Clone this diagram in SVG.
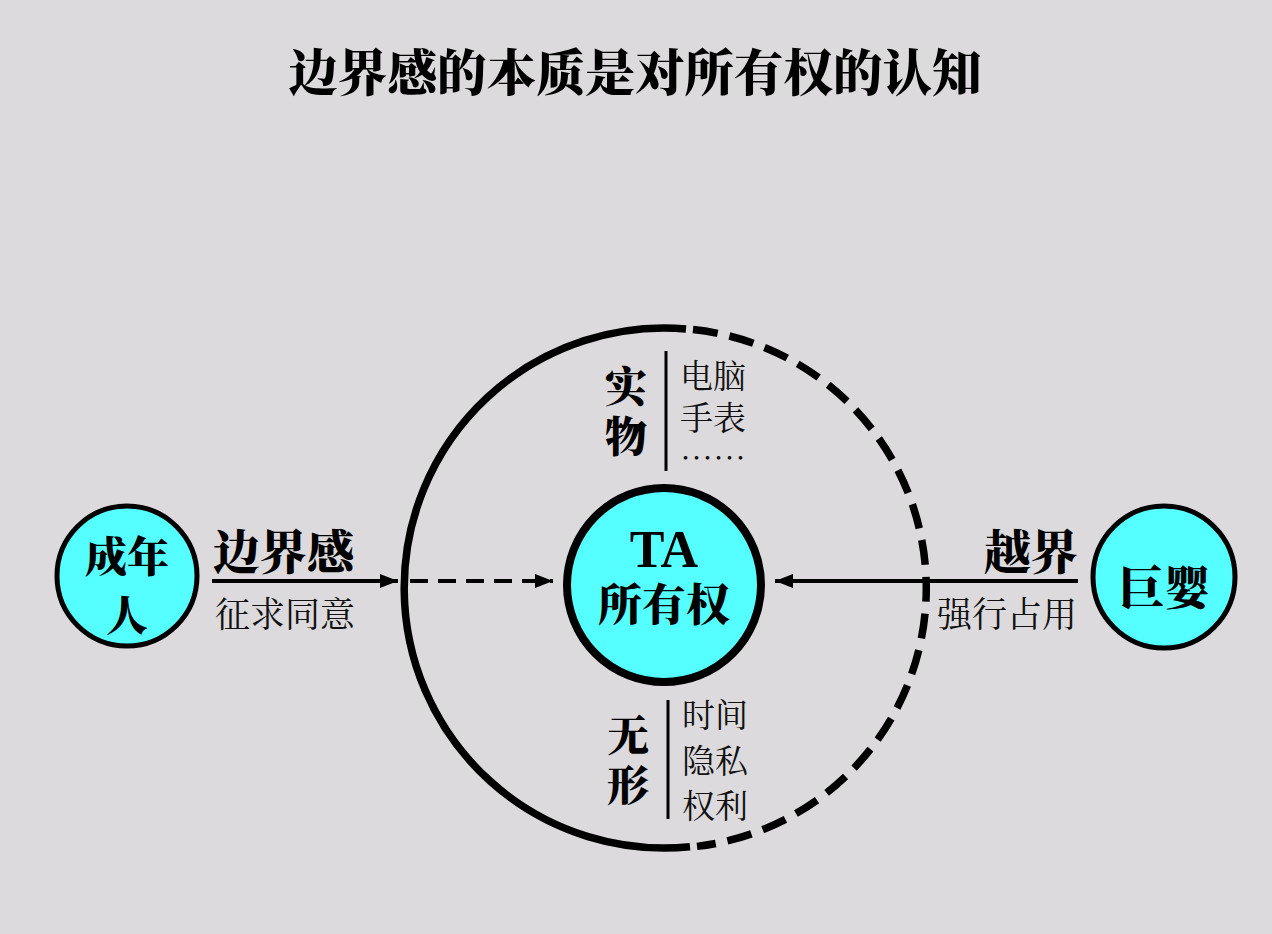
<svg xmlns="http://www.w3.org/2000/svg" width="1272" height="934" viewBox="0 0 1272 934">
<defs>
<style>
.bg{fill:#DCDADC}
.t{font-family:"Noto Serif CJK SC","Noto Sans CJK SC",serif;fill:#000}
.b{font-weight:900}
.r{font-weight:normal;fill:#111}
.node{fill:#55FFFF;stroke:#000}
.ln{stroke:#000;fill:none}
</style>
<marker id="ah" markerUnits="userSpaceOnUse" markerWidth="20" markerHeight="16" refX="18" refY="7" orient="auto">
<path d="M0,0 L18,7 L0,14 z" fill="#000"/>
</marker>
</defs>
<rect class="bg" x="0" y="0" width="1272" height="934"/>
<text class="t b" x="635" y="91" font-size="49.5" text-anchor="middle">边界感的本质是对所有权的认知</text>

<g id="boundary">
<path class="ln" stroke-width="7.5" d="M686,328.9 A260,260 0 1,0 690,846.7"/>
<path class="ln" stroke-width="7.5" stroke-dasharray="25 12" d="M693,329.6 A260,260 0 0,1 697,846.4"/>
</g>

<g id="connectors">
<line class="ln" stroke-width="4" x1="212" y1="581" x2="398" y2="581" marker-end="url(#ah)"/>
<line class="ln" stroke-width="4" stroke-dasharray="18 10" x1="410" y1="581" x2="553" y2="581" marker-end="url(#ah)"/>
<line class="ln" stroke-width="4" x1="1078" y1="581" x2="775" y2="581" marker-end="url(#ah)"/>
<line class="ln" stroke-width="3" x1="666" y1="351" x2="666" y2="471"/>
<line class="ln" stroke-width="3" x1="668" y1="700" x2="668" y2="819"/>
</g>

<g id="adult">
<circle class="node" cx="127" cy="576" r="70" stroke-width="5"/>
<text class="t b" font-size="42" text-anchor="middle"><tspan x="127" y="572">成年</tspan><tspan x="127" y="631">人</tspan></text>
</g>

<g id="baby">
<circle class="node" cx="1164" cy="577" r="71" stroke-width="5"/>
<text class="t b" x="1164" y="604" font-size="46" text-anchor="middle">巨婴</text>
</g>

<g id="ownership">
<circle class="node" cx="664" cy="585" r="97" stroke-width="8"/>
<text x="664" y="567" font-size="52" text-anchor="middle" font-family="'Liberation Serif',serif" font-weight="bold">TA</text>
<text class="t b" x="664" y="621" font-size="44" text-anchor="middle">所有权</text>
</g>

<g id="label-left">
<text class="t b" x="213" y="569" font-size="47">边界感</text>
<text class="t r" x="215" y="627" font-size="35">征求同意</text>
</g>

<g id="label-right">
<text class="t b" x="1078" y="569" font-size="47" text-anchor="end">越界</text>
<text class="t r" x="1077" y="627" font-size="35" text-anchor="end">强行占用</text>
</g>

<g id="tangible">
<text class="t b" font-size="42" text-anchor="middle"><tspan x="626" y="402">实</tspan><tspan x="626" y="452">物</tspan></text>
<text class="t r" font-size="33"><tspan x="680" y="388">电脑</tspan><tspan x="680" y="430">手表</tspan><tspan x="680" y="470">……</tspan></text>
</g>

<g id="intangible">
<text class="t b" font-size="42" text-anchor="middle"><tspan x="628" y="751">无</tspan><tspan x="628" y="801">形</tspan></text>
<text class="t r" font-size="33"><tspan x="682" y="727">时间</tspan><tspan x="682" y="773">隐私</tspan><tspan x="682" y="818">权利</tspan></text>
</g>
</svg>
